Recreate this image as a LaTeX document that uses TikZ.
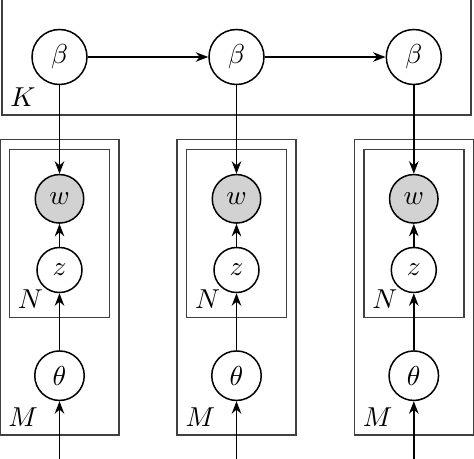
\documentclass[tikz,border=0pt]{standalone}
\usetikzlibrary{arrows.meta}
\begin{document}
\begin{tikzpicture}[x=0.4pt,y=-0.4pt,font=\fontsize{11}{13}\selectfont,>={Stealth[length=5pt,width=3.8pt]}]
        \tikzstyle{var}=[circle,draw,line width=0.6pt,inner sep=0pt]
        \tikzstyle{beta node}=[var,minimum size=22pt]
        \tikzstyle{word node}=[var,fill=gray!35,minimum size=19.4pt]
        \tikzstyle{topic node}=[var,minimum size=18pt]
        \tikzstyle{theta node}=[var,minimum size=19.8pt]
        \tikzstyle{plate}=[draw=black!75,line width=0.6pt]
        \tikzstyle{plate label}=[anchor=south west,inner sep=3.2pt]
        \tikzstyle{edge}=[->,line width=0.75pt]
        \path[use as bounding box,clip] (0,0) rectangle (474,459);

        % K plate over the topics
        \draw[plate] (2,-20) rectangle (471,115);
        \node(K)[plate label] at (2,115) {$K$};

        \node(b1)[beta node] at (59.5,57) {$\beta$};
        \node(b2)[beta node] at (236.5,57) {$\beta$};
        \node(b3)[beta node] at (413.8,57) {$\beta$};

        % document plates
        \draw[plate] (0,139.3) rectangle (119,435);
        \draw[plate] (9.5,149.3) rectangle (109.5,317.3);
        \node(M1)[plate label] at (0,435) {$M$};
        \node(N1)[plate label] at (9.5,317.3) {$N$};

        \draw[plate] (177,139.3) rectangle (296,435);
        \draw[plate] (186.5,149.3) rectangle (286.5,317.3);
        \node(M2)[plate label] at (177,435) {$M$};
        \node(N2)[plate label] at (186.5,317.3) {$N$};

        \draw[plate] (354.3,139.3) rectangle (473.3,435);
        \draw[plate] (363.8,149.3) rectangle (463.8,317.3);
        \node(M3)[plate label] at (354.3,435) {$M$};
        \node(N3)[plate label] at (363.8,317.3) {$N$};

        \node(w1)[word node] at (59.5,198.8) {$w$};
        \node(z1)[topic node] at (59.5,270) {$z$};
        \node(t1)[theta node] at (59.5,375.7) {$\theta$};
        \coordinate(a1) at (59.5,475);

        \node(w2)[word node] at (236.5,198.8) {$w$};
        \node(z2)[topic node] at (236.5,270) {$z$};
        \node(t2)[theta node] at (236.5,375.7) {$\theta$};
        \coordinate(a2) at (236.5,475);

        \node(w3)[word node] at (413.8,198.8) {$w$};
        \node(z3)[topic node] at (413.8,270) {$z$};
        \node(t3)[theta node] at (413.8,375.7) {$\theta$};
        \coordinate(a3) at (413.8,475);

        % edges
        \draw[edge] (b1) -- (b2);
        \draw[edge] (b2) -- (b3);
        \draw[edge] (b1) -- (w1);
        \draw[edge] (b2) -- (w2);
        \draw[edge] (b3) -- (w3);
        \draw[edge] (z1) -- (w1);
        \draw[edge] (z2) -- (w2);
        \draw[edge] (z3) -- (w3);
        \draw[edge] (t1) -- (z1);
        \draw[edge] (t2) -- (z2);
        \draw[edge] (t3) -- (z3);
        \draw[edge] (a1) -- (t1);
        \draw[edge] (a2) -- (t2);
        \draw[edge] (a3) -- (t3);
\end{tikzpicture}
\end{document}
